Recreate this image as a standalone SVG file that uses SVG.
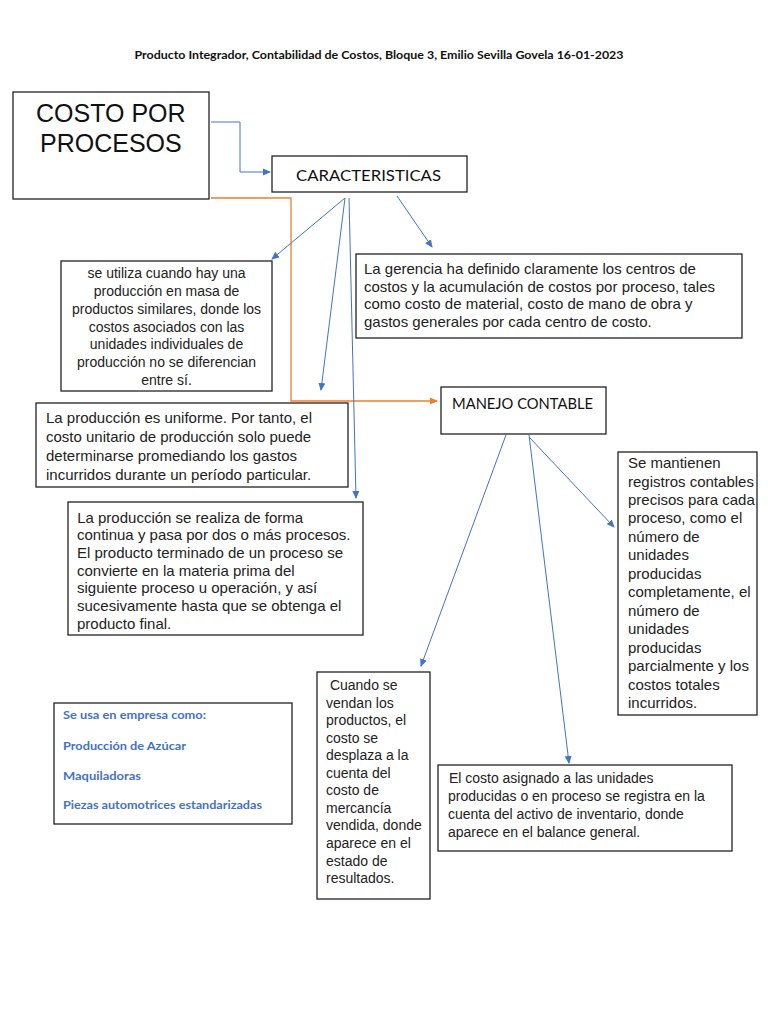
<svg xmlns="http://www.w3.org/2000/svg" width="768" height="1024" viewBox="0 0 768 1024">
<style>
  .box{fill:#fff;stroke:#222;stroke-width:1.3}
  .t{font-family:"Liberation Sans",Arial,sans-serif;font-size:14px;fill:#222}
  .l{font-size:15px}
  .tc{text-anchor:middle}
  .blue{stroke:#4472C4;stroke-width:1;fill:none}
  .orange{stroke:#ED7D31;stroke-width:1.3;fill:none}
  .cal{font-family:Lato,"Liberation Sans",sans-serif;fill:#111}
  .lst{font-family:Lato,"Liberation Sans",sans-serif;font-weight:bold;font-size:12px;fill:#4472C4}
</style>
<defs>
  <marker id="ab" markerWidth="8" markerHeight="8" refX="7" refY="4" orient="auto" markerUnits="userSpaceOnUse">
    <path d="M0,0.5 L8,4 L0,7.5 Z" fill="#4472C4"/>
  </marker>
  <marker id="ao" markerWidth="8" markerHeight="8" refX="7" refY="4" orient="auto" markerUnits="userSpaceOnUse">
    <path d="M0,0.5 L8,4 L0,7.5 Z" fill="#ED7D31"/>
  </marker>
</defs>
<rect width="768" height="1024" fill="#fff"/>
<text x="379" y="59" class="cal" font-weight="bold" font-size="12" text-anchor="middle" textLength="489" lengthAdjust="spacingAndGlyphs">Producto Integrador, Contabilidad de Costos, Bloque 3, Emilio Sevilla Govela 16-01-2023</text>

<g id="connectors">
  <polyline class="blue" points="211,122 240,122 240,172 270,172" marker-end="url(#ab)"/>
  <polyline class="orange" points="211,198 291,198 291,401 437,401" marker-end="url(#ao)"/>
  <line class="blue" x1="345" y1="198" x2="272" y2="259" marker-end="url(#ab)"/>
  <line class="blue" x1="345" y1="198" x2="321" y2="390" marker-end="url(#ab)"/>
  <line class="blue" x1="349" y1="198" x2="356" y2="498" marker-end="url(#ab)"/>
  <line class="blue" x1="397" y1="196" x2="432" y2="247" marker-end="url(#ab)"/>
  <line class="blue" x1="506" y1="435" x2="421" y2="666" marker-end="url(#ab)"/>
  <line class="blue" x1="529" y1="435" x2="569" y2="763" marker-end="url(#ab)"/>
  <line class="blue" x1="529" y1="437" x2="614" y2="527" marker-end="url(#ab)"/>
</g>

<g id="costo-por-procesos">
  <rect class="box" x="13" y="92" width="196" height="107"/>
  <text x="36" y="122" font-family="Liberation Sans,Arial,sans-serif" font-size="25" fill="#111">COSTO POR</text>
  <text x="40" y="152" font-family="Liberation Sans,Arial,sans-serif" font-size="25" fill="#111">PROCESOS</text>
</g>

<g id="caracteristicas">
  <rect class="box" x="272" y="156" width="195" height="36"/>
  <text x="296" y="181" class="cal" font-size="16" textLength="145" lengthAdjust="spacingAndGlyphs">CARACTERISTICAS</text>
</g>

<g id="manejo-contable">
  <rect class="box" x="441" y="387" width="165" height="47"/>
  <text x="452" y="409" class="cal" font-size="15" textLength="141" lengthAdjust="spacingAndGlyphs">MANEJO CONTABLE</text>
</g>

<g id="masa">
  <rect class="box" x="61" y="261" width="211" height="130"/>
  <text class="t tc" x="166.5" y="278">se utiliza cuando hay una</text>
  <text class="t tc" x="166.5" y="296">producción en masa de</text>
  <text class="t tc" x="166.5" y="314">productos similares, donde los</text>
  <text class="t tc" x="166.5" y="332">costos asociados con las</text>
  <text class="t tc" x="166.5" y="349">unidades individuales de</text>
  <text class="t tc" x="166.5" y="367">producción no se diferencian</text>
  <text class="t tc" x="166.5" y="385">entre sí.</text>
</g>

<g id="gerencia">
  <rect class="box" x="356" y="254" width="386" height="84"/>
  <text class="t l" x="364" y="274">La gerencia ha definido claramente los centros de</text>
  <text class="t l" x="364" y="292">costos y la acumulación de costos por proceso, tales</text>
  <text class="t l" x="364" y="309">como costo de material, costo de mano de obra y</text>
  <text class="t l" x="364" y="327">gastos generales por cada centro de costo.</text>
</g>

<g id="uniforme">
  <rect class="box" x="36" y="403" width="312" height="84"/>
  <text class="t l" x="46" y="423">La producción es uniforme. Por tanto, el</text>
  <text class="t l" x="46" y="442">costo unitario de producción solo puede</text>
  <text class="t l" x="46" y="461">determinarse promediando los gastos</text>
  <text class="t l" x="46" y="480">incurridos durante un período particular.</text>
</g>

<g id="continua">
  <rect class="box" x="68" y="502" width="295" height="133"/>
  <text class="t l" x="73" y="523" xml:space="preserve"> La producción se realiza de forma</text>
  <text class="t l" x="77" y="540">continua y pasa por dos o más procesos.</text>
  <text class="t l" x="77" y="558">El producto terminado de un proceso se</text>
  <text class="t l" x="77" y="576">convierte en la materia prima del</text>
  <text class="t l" x="77" y="593">siguiente proceso u operación, y así</text>
  <text class="t l" x="77" y="611">sucesivamente hasta que se obtenga el</text>
  <text class="t l" x="77" y="629">producto final.</text>
</g>

<g id="registros">
  <rect class="box" x="618" y="452" width="139" height="263"/>
  <text class="t l" x="628" y="468">Se mantienen</text>
  <text class="t l" x="628" y="486.5">registros contables</text>
  <text class="t l" x="628" y="505">precisos para cada</text>
  <text class="t l" x="628" y="523.4">proceso, como el</text>
  <text class="t l" x="628" y="541.8">número de</text>
  <text class="t l" x="628" y="560.3">unidades</text>
  <text class="t l" x="628" y="578.8">producidas</text>
  <text class="t l" x="628" y="597.2">completamente, el</text>
  <text class="t l" x="628" y="615.7">número de</text>
  <text class="t l" x="628" y="634.1">unidades</text>
  <text class="t l" x="628" y="652.6">producidas</text>
  <text class="t l" x="628" y="671">parcialmente y los</text>
  <text class="t l" x="628" y="689.5">costos totales</text>
  <text class="t l" x="628" y="708">incurridos.</text>
</g>

<g id="vendan">
  <rect class="box" x="317" y="672" width="113" height="227"/>
  <text class="t" x="326" y="690" xml:space="preserve"> Cuando se</text>
  <text class="t" x="326" y="707.5">vendan los</text>
  <text class="t" x="326" y="725">productos, el</text>
  <text class="t" x="326" y="742.7">costo se</text>
  <text class="t" x="326" y="760.2">desplaza a la</text>
  <text class="t" x="326" y="777.8">cuenta del</text>
  <text class="t" x="326" y="795.3">costo de</text>
  <text class="t" x="326" y="812.9">mercancía</text>
  <text class="t" x="326" y="830.4">vendida, donde</text>
  <text class="t" x="326" y="848">aparece en el</text>
  <text class="t" x="326" y="865.5">estado de</text>
  <text class="t" x="326" y="883">resultados.</text>
</g>

<g id="asignado">
  <rect class="box" x="438" y="765" width="294" height="86"/>
  <text class="t" x="445" y="783" font-size="13.7" xml:space="preserve"> El costo asignado a las unidades</text>
  <text class="t" x="448" y="801" font-size="13.7">producidas o en proceso se registra en la</text>
  <text class="t" x="448" y="819" font-size="13.7">cuenta del activo de inventario, donde</text>
  <text class="t" x="448" y="837" font-size="13.7">aparece en el balance general.</text>
</g>

<g id="empresas">
  <rect class="box" x="54" y="703" width="238" height="121"/>
  <text class="lst" x="63" y="719" textLength="143" lengthAdjust="spacingAndGlyphs">Se usa en empresa como:</text>
  <text class="lst" x="63" y="750" textLength="123" lengthAdjust="spacingAndGlyphs">Producción de Azúcar</text>
  <text class="lst" x="63" y="780" textLength="78" lengthAdjust="spacingAndGlyphs">Maquiladoras</text>
  <text class="lst" x="63" y="809" textLength="199" lengthAdjust="spacingAndGlyphs">Piezas automotrices estandarizadas</text>
</g>
</svg>
